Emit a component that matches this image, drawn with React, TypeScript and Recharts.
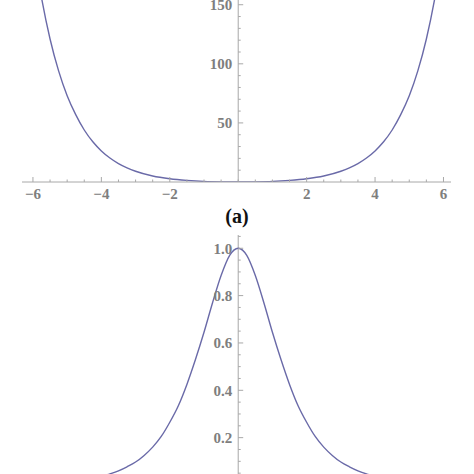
import React from "react";
import { LineChart, Line, XAxis, YAxis, ReferenceLine, ReferenceDot } from "recharts";

// (a) upper panel
const topX = [-6, -5.75, -5.5, -5.25, -5, -4.75, -4.5, -4.25, -4, -3.75, -3.5, -3.25, -3, -2.5, -2, -1.5, -1, -0.5, 0, 0.5, 1, 1.5, 2, 2.5, 3, 3.25, 3.5, 3.75, 4, 4.25, 4.5, 4.75, 5, 5.25, 5.5, 5.75, 6];
const topY = [200, 156, 121, 94, 73, 57, 44, 34, 26.3, 20.3, 15.6, 12, 9.1, 5.1, 2.8, 1.4, 0.5, 0.12, 0, 0.12, 0.5, 1.4, 2.8, 5.1, 9.1, 12, 15.6, 20.3, 26.3, 34, 44, 57, 73, 94, 121, 156, 200];

// lower panel (bell curve, cut off at the bottom of the image)
const bottomX = [-6, -5.5, -5, -4.5, -4, -3.75, -3.5, -3.25, -3, -2.75, -2.5, -2.25, -2, -1.75, -1.5, -1.25, -1, -0.75, -0.5, -0.25, 0, 0.25, 0.5, 0.75, 1, 1.25, 1.5, 1.75, 2, 2.25, 2.5, 2.75, 3, 3.25, 3.5, 3.75, 4, 4.5, 5, 5.5, 6];
const bottomY = [0.005, 0.008, 0.013, 0.022, 0.037, 0.047, 0.06, 0.077, 0.097, 0.125, 0.16, 0.205, 0.265, 0.335, 0.425, 0.53, 0.645, 0.77, 0.885, 0.97, 1.0, 0.97, 0.885, 0.77, 0.645, 0.53, 0.425, 0.335, 0.265, 0.205, 0.16, 0.125, 0.097, 0.077, 0.06, 0.047, 0.037, 0.022, 0.013, 0.008, 0.005];

const xTicks = [-6, -5.5, -5, -4.5, -4, -3.5, -3, -2.5, -2, -1.5, -1, -0.5, 0, 0.5, 1, 1.5, 2, 2.5, 3, 3.5, 4, 4.5, 5, 5.5, 6];
const xLabels = [-6, -4, -2, 2, 4, 6];

const topYTicks = [10, 20, 30, 40, 50, 60, 70, 80, 90, 100, 110, 120, 130, 140, 150];
const topYLabels = [50, 100, 150];

const bottomYTicks = [0.05, 0.1, 0.15, 0.2, 0.25, 0.3, 0.35, 0.4, 0.45, 0.5, 0.55, 0.6, 0.65, 0.7, 0.75, 0.8, 0.85, 0.9, 0.95, 1.0, 1.05];
const bottomYMajors = [0.2, 0.4, 0.6, 0.8, 1.0];
const bottomYLabels = ["0.2", "0.4", "0.6", "0.8", "1.0"];

const topData = topX.map((x, i) => ({ x, y: topY[i] }));
const bottomData = bottomX.map((x, i) => ({ x, y: bottomY[i] }));

const CURVE = "#6a6aa8";
const AXIS = "#a8a8a8";
const LABEL = "#7e7e7e";
const FONT = "Times New Roman, Liberation Serif, Tinos, Noto Serif, DejaVu Serif, serif";
const X_DOMAIN: [number, number] = [-6.32, 6.22];

const fmtX = (v: number) => (v < 0 ? `\u2212${Math.abs(v)}` : `${v}`);

function XTick(props: any) {
  const { x, y, payload } = props;
  const v = payload.value as number;
  const major = xLabels.includes(v);
  return (
    <g>
      <line x1={x} y1={y} x2={x} y2={y - (major ? 5 : 2.5)} stroke={AXIS} />
      {major && (
        <text
          x={x}
          y={y + 17}
          textAnchor="middle"
          fill={LABEL}
          fontSize={15}
          fontWeight="bold"
          fontFamily={FONT}
        >
          {fmtX(v)}
        </text>
      )}
    </g>
  );
}

// y ticks sit on the x=0 line, drawn at the dot's position
function yTick(label: string | null, major: boolean) {
  return (p: any) => (
    <g>
      <line x1={p.cx} y1={p.cy} x2={p.cx + (major ? 5 : 2.5)} y2={p.cy} stroke={AXIS} />
      {label && (
        <text
          x={p.cx - 6}
          y={p.cy}
          dy="0.35em"
          textAnchor="end"
          fill={LABEL}
          fontSize={15}
          fontWeight="bold"
          fontFamily={FONT}
        >
          {label}
        </text>
      )}
    </g>
  );
}

export default function App() {
  return (
    <div
      style={{
        position: "absolute",
        left: 0,
        top: 0,
        width: 474,
        height: 474,
        overflow: "hidden",
        background: "#fff",
      }}
    >
      <div style={{ position: "absolute", left: 0, top: 0 }}>
        <LineChart width={474} height={212} data={topData} margin={{ top: 0, right: 23, left: 22, bottom: 0 }}>
          <XAxis
            type="number"
            dataKey="x"
            domain={X_DOMAIN}
            allowDataOverflow
            ticks={xTicks}
            interval={0}
            tickLine={false}
            tickSize={0}
            tickMargin={0}
            height={30}
            axisLine={{ stroke: AXIS }}
            tick={<XTick />}
          />
          <YAxis hide type="number" domain={[0, 154]} allowDataOverflow />
          <ReferenceLine x={0} stroke={AXIS} />
          {topYTicks.map((v) => {
            const major = topYLabels.includes(v);
            return (
              <ReferenceDot key={v} x={0} y={v} r={0} shape={yTick(major ? `${v}` : null, major)} />
            );
          })}
          <Line
            type="monotone"
            dataKey="y"
            stroke={CURVE}
            strokeWidth={1.4}
            dot={false}
            isAnimationActive={false}
          />
        </LineChart>
      </div>

      <div
        style={{
          position: "absolute",
          left: 0,
          top: 206,
          width: 474,
          textAlign: "center",
          fontFamily: FONT,
          fontWeight: "bold",
          fontSize: 20,
          lineHeight: "20px",
          color: "#111",
        }}
      >
        (a)
      </div>

      <div style={{ position: "absolute", left: 0, top: 235 }}>
        <LineChart width={474} height={250} data={bottomData} margin={{ top: 0, right: 23, left: 22, bottom: 0 }}>
          <XAxis hide type="number" dataKey="x" domain={X_DOMAIN} allowDataOverflow />
          <YAxis hide type="number" domain={[0, 1.056]} allowDataOverflow />
          <ReferenceLine x={0} stroke={AXIS} />
          {bottomYTicks.map((v, i) => {
            const idx = bottomYMajors.findIndex((m) => Math.abs(m - v) < 1e-6);
            const major = idx >= 0;
            return (
              <ReferenceDot
                key={i}
                x={0}
                y={v}
                r={0}
                shape={yTick(major ? bottomYLabels[idx] : null, major)}
              />
            );
          })}
          <Line
            type="monotone"
            dataKey="y"
            stroke={CURVE}
            strokeWidth={1.4}
            dot={false}
            isAnimationActive={false}
          />
        </LineChart>
      </div>
    </div>
  );
}
